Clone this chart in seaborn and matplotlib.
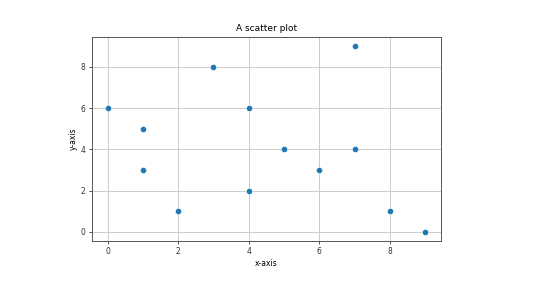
import matplotlib
matplotlib.use("Agg")
import matplotlib.pyplot as plt
import seaborn as sns
import pandas as pd

x_vals = [0, 1, 1, 2, 3, 4, 4, 5, 6, 7, 7, 8, 9]
y_vals = [6, 5, 3, 1, 8, 6, 2, 4, 3, 9, 4, 1, 0]

df = pd.DataFrame({"x": x_vals, "y": y_vals})

plt.rcParams['font.size'] = 5.5
fig = plt.figure(figsize=(5.43, 2.94), dpi=100)
ax = fig.add_axes([0.169, 0.18, 0.643, 0.694])
sns.scatterplot(data=df, x="x", y="y", ax=ax, s=20, color="#1f77b4", edgecolor="white", linewidth=0.4, zorder=3)
ax.grid(True, color="#cccccc", linewidth=0.7)
ax.set_axisbelow(True)
ax.set_xticks([0, 2, 4, 6, 8])
ax.set_yticks([0, 2, 4, 6, 8])
ax.set_title("A scatter plot", fontsize=6.5, pad=4)
ax.set_xlabel("x-axis", fontsize=5.5, labelpad=2)
ax.set_ylabel("y-axis", fontsize=5.5, labelpad=2)
ax.tick_params(labelsize=5.5, length=2.5, width=0.6, pad=2, colors="#333333")
for s in ax.spines.values():
    s.set_linewidth(0.7)
    s.set_color("#555555")
fig.savefig("out.png", dpi=100)
